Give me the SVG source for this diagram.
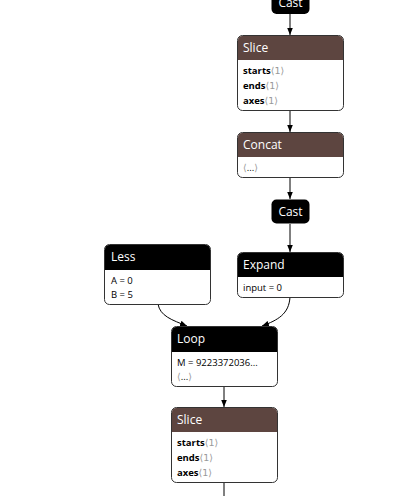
<svg xmlns="http://www.w3.org/2000/svg" width="407" height="496" viewBox="0 0 407 496">
<style>
.box{fill:#fff;stroke:#333;stroke-width:1}
.hb{fill:#000}
.hs{fill:#5d4540}
.ht{font-family:"Open Sans","Noto Sans",sans-serif;font-size:12px;fill:#fff}
.at{font-family:"Open Sans","Noto Sans",sans-serif;font-size:9.5px;fill:#000}
.b{font-weight:bold}
.g{fill:#999;font-family:"DejaVu Sans",sans-serif}
.e{fill:none;stroke:#000;stroke-width:1}
</style>
<defs>
<marker id="ar" viewBox="0 0 10 10" refX="10" refY="5" markerWidth="7" markerHeight="7" orient="auto" markerUnits="userSpaceOnUse">
<path d="M0,1 L10,5 L0,9 Z" fill="#000"/>
</marker>
</defs>
<g id="edges">
<path class="e" d="M290,14 L290,35" marker-end="url(#ar)"/>
<path class="e" d="M290,110 L290,132" marker-end="url(#ar)"/>
<path class="e" d="M290,177 L290,199" marker-end="url(#ar)"/>
<path class="e" d="M290,224 L290,252" marker-end="url(#ar)"/>
<path class="e" d="M158,304 C160,316 172,320 187,326" marker-end="url(#ar)"/>
<path class="e" d="M290,297 C289,314 278,320 262,326" marker-end="url(#ar)"/>
<path class="e" d="M224,387 L224,407" marker-end="url(#ar)"/>
<path class="e" d="M224,483 L224,496"/>
</g>
<g id="cast1">
<rect class="hb" x="271.5" y="-10" width="38" height="24" rx="5"/>
<text class="ht" x="290.5" y="7" text-anchor="middle">Cast</text>
</g>
<g id="slice1">
<rect class="box" x="237.5" y="35.5" width="106" height="75" rx="5"/>
<path class="hs" d="M238,60 L238,40.5 Q238,36 242.5,36 L338.5,36 Q343,36 343,40.5 L343,60 Z"/>
<text class="ht" x="243" y="52">Slice</text>
<text class="at" x="243" y="74"><tspan class="b">starts</tspan><tspan class="g">⟨1⟩</tspan></text>
<text class="at" x="243" y="89"><tspan class="b">ends</tspan><tspan class="g">⟨1⟩</tspan></text>
<text class="at" x="243" y="104"><tspan class="b">axes</tspan><tspan class="g">⟨1⟩</tspan></text>
</g>
<g id="concat">
<rect class="box" x="237.5" y="132.5" width="106" height="45" rx="5"/>
<path class="hs" d="M238,157 L238,137.5 Q238,133 242.5,133 L338.5,133 Q343,133 343,137.5 L343,157 Z"/>
<text class="ht" x="243" y="149">Concat</text>
<text class="at" x="243" y="171"><tspan class="g">⟨</tspan>...<tspan class="g">⟩</tspan></text>
</g>
<g id="cast2">
<rect class="hb" x="271.5" y="199.5" width="38" height="24" rx="5"/>
<text class="ht" x="290.5" y="216" text-anchor="middle">Cast</text>
</g>
<g id="less">
<rect class="box" x="104.5" y="244.5" width="106" height="60" rx="5"/>
<path class="hb" d="M105,270 L105,249.5 Q105,245 109.5,245 L205.5,245 Q210,245 210,249.5 L210,270 Z"/>
<text class="ht" x="111" y="261">Less</text>
<text class="at" x="111" y="284">A = 0</text>
<text class="at" x="111" y="298">B = 5</text>
</g>
<g id="expand">
<rect class="box" x="237.5" y="252.5" width="106" height="45" rx="5"/>
<path class="hb" d="M238,277 L238,257.5 Q238,253 242.5,253 L338.5,253 Q343,253 343,257.5 L343,277 Z"/>
<text class="ht" x="243" y="269">Expand</text>
<text class="at" x="243" y="291">input = 0</text>
</g>
<g id="loop">
<rect class="box" x="171.5" y="326.5" width="106" height="60" rx="5"/>
<path class="hb" d="M172,352 L172,331.5 Q172,327 176.5,327 L272.5,327 Q277,327 277,331.5 L277,352 Z"/>
<text class="ht" x="177" y="343">Loop</text>
<text class="at" x="177" y="366">M = 9223372036...</text>
<text class="at" x="177" y="380"><tspan class="g">⟨</tspan>...<tspan class="g">⟩</tspan></text>
</g>
<g id="slice2">
<rect class="box" x="171.5" y="407.5" width="106" height="75" rx="5"/>
<path class="hs" d="M172,432 L172,412.5 Q172,408 176.5,408 L272.5,408 Q277,408 277,412.5 L277,432 Z"/>
<text class="ht" x="177" y="424">Slice</text>
<text class="at" x="177" y="446"><tspan class="b">starts</tspan><tspan class="g">⟨1⟩</tspan></text>
<text class="at" x="177" y="461"><tspan class="b">ends</tspan><tspan class="g">⟨1⟩</tspan></text>
<text class="at" x="177" y="476"><tspan class="b">axes</tspan><tspan class="g">⟨1⟩</tspan></text>
</g>
</svg>
